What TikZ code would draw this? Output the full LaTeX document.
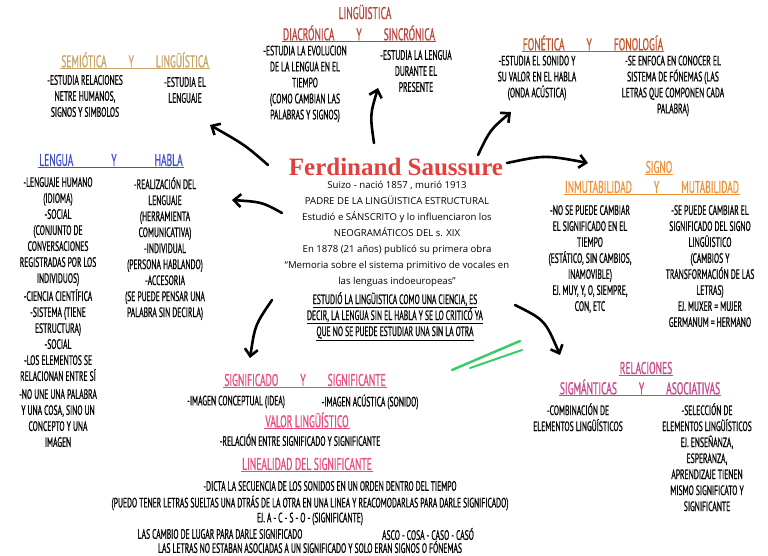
\documentclass[tikz,border=0pt]{standalone}
\usepackage{fontspec}
\usetikzlibrary{arrows.meta}
\newfontfamily\capsf[FakeStretch=0.56,FakeBold=0.6]{PT Sans}
\newfontfamily\bodyf{Open Sans}
\newfontfamily\titlef{Liberation Serif}
\definecolor{cLing}{HTML}{B8453C}
\definecolor{cSemi}{HTML}{C9A466}
\definecolor{cFon}{HTML}{C0532A}
\definecolor{cLen}{HTML}{4150D0}
\definecolor{cTit}{HTML}{E0403F}
\definecolor{cSig}{HTML}{F0913A}
\definecolor{cSdo}{HTML}{EA4A7C}
\definecolor{cRel}{HTML}{C8468A}
\definecolor{cGreen}{HTML}{3CCB6A}
\tikzset{
  txt/.style={align=center,inner sep=0pt,font=\capsf\fontsize{13.6}{16}\selectfont},
  hdr/.style={align=center,inner sep=1pt,font=\capsf\fontsize{17}{18}\selectfont},
  body/.style={align=center,inner sep=0pt,font=\bodyf\fontsize{9.6}{16}\selectfont},
  arr/.style={line width=2.6pt,line cap=round,-{Straight Barb[length=7pt,width=13pt,line width=2.6pt]}},
  ul/.style={line width=0.7pt}
}
\newcommand{\hd}[5]{\node[hdr,text=#4] (#1) at (#2,#3) {#5};
  \draw[ul,#4] (#1.south west) -- (#1.south east);}
\begin{document}
\begin{tikzpicture}[x=1pt,y=-1pt]
\useasboundingbox[fill=white] (0,0) rectangle (768,556);
% Lingüistica
\node[hdr,text=cLing] (ling) at (365,12) {LINGÜISTICA};
\hd{dia}{359}{33}{cLing}{DIACRÓNICA\hspace{22pt}Y\hspace{22pt}SINCRÓNICA}
\node[txt] (dia1) at (305,84) {-ESTUDIA LA EVOLUCION\\DE LA LENGUA EN EL\\TIEMPO\\(COMO CAMBIAN LAS\\PALABRAS Y SIGNOS)};
\node[txt] (dia2) at (416,71) {-ESTUDIA LA LENGUA\\DURANTE EL\\PRESENTE};
% Semiotica
\hd{sem}{135}{60}{cSemi}{SEMIÓTICA\hspace{22pt}Y\hspace{22pt}LINGÜÍSTICA}
\node[txt] (sem1) at (85,96) {-ESTUDIA RELACIONES\\NETRE HUMANOS,\\SIGNOS Y SIMBOLOS};
\node[txt] (sem2) at (185,90) {-ESTUDIA EL\\LENGUAJE};
% Fonetica
\hd{fon}{593}{43}{cFon}{FONÉTICA\hspace{22pt}Y\hspace{22pt}FONOLOGÍA}
\node[txt] (fon1) at (537,78) {-ESTUDIA EL SONIDO Y\\SU VALOR EN EL HABLA\\(ONDA ACÚSTICA)};
\node[txt] (fon2) at (673,86) {-SE ENFOCA EN CONOCER EL\\SISTEMA DE FÓNEMAS (LAS\\LETRAS QUE COMPONEN CADA\\PALABRA)};
% Lengua y habla
\hd{len}{111}{160}{cLen}{LENGUA\hspace{38pt}Y\hspace{38pt}HABLA}
\node[txt,anchor=north] (len1) at (58,177) {-LENGUAJE HUMANO\\(IDIOMA)\\-SOCIAL\\(CONJUNTO DE\\CONVERSACIONES\\REGISTRADAS POR LOS\\INDIVIDUOS)\\[2pt]-CIENCIA CIENTÍFICA\\-SISTEMA (TIENE\\ESTRUCTURA)\\-SOCIAL\\-LOS ELEMENTOS SE\\RELACIONAN ENTRE SÍ\\[2pt]-NO UNE UNA PALABRA\\Y UNA COSA, SINO UN\\CONCEPTO Y UNA\\IMAGEN};
\node[txt,anchor=north] (len2) at (165,177) {-REALIZACIÓN DEL\\LENGUAJE\\(HERRAMIENTA\\COMUNICATIVA)\\-INDIVIDUAL\\(PERSONA HABLANDO)\\-ACCESORIA\\(SE PUEDE PENSAR UNA\\PALABRA SIN DECIRLA)};
% Center
\node[inner sep=0pt,text=cTit,font=\titlef\bfseries\fontsize{25}{28}\selectfont] (tit) at (396,167) {Ferdinand Saussure};
\node[body,anchor=north] (bio) at (397,181) {Suizo - nació 1857 , murió 1913\\PADRE DE LA LINGÜISTICA ESTRUCTURAL\\Estudió e SÁNSCRITO y lo influenciaron los\\NEOGRAMÁTICOS DEL s. XIX\\En 1878 (21 años) publicó su primera obra\\“Memoria sobre el sistema primitivo de vocales en\\las lenguas indoeuropeas”};
\node[txt,anchor=north] (est) at (395,292) {\underline{ESTUDIÓ LA LINGÜISTICA COMO UNA CIENCIA, ES}\\\underline{DECIR, LA LENGUA SIN EL HABLA Y SE LO CRITICÓ YA}\\\underline{QUE NO SE PUEDE ESTUDIAR UNA SIN LA OTRA}};
% Signo
\hd{sig}{659}{167}{cSig}{SIGNO}
\hd{inm}{652}{187}{cSig}{INMUTABILIDAD\hspace{22pt}Y\hspace{22pt}MUTABILIDAD}
\node[txt,anchor=north] (sig1) at (590,205) {-NO SE PUEDE CAMBIAR\\EL SIGNIFICADO EN EL\\TIEMPO\\(ESTÁTICO, SIN CAMBIOS,\\INAMOVIBLE)\\EJ. MUY, Y, O, SIEMPRE,\\CON, ETC};
\node[txt,anchor=north] (sig2) at (710,205) {-SE PUEDE CAMBIAR EL\\SIGNIFICADO DEL SIGNO\\LINGÜISTICO\\(CAMBIOS Y\\TRANSFORMACIÓN DE LAS\\LETRAS)\\EJ. MUXER = MUJER\\GERMANUM = HERMANO};
% Significado
\hd{sdo}{305}{380}{cSdo}{SIGNIFICADO\hspace{22pt}Y\hspace{22pt}SIGNIFICANTE}
\node[txt] (sdo1) at (236,402) {-IMAGEN CONCEPTUAL (IDEA)};
\node[txt] (sdo2) at (370,402) {-IMAGEN ACÚSTICA (SONIDO)};
\hd{val}{307}{420}{cSdo}{VALOR LINGÜÍSTICO}
\node[txt] (val1) at (300,440) {-RELACIÓN ENTRE SIGNIFICADO Y SIGNIFICANTE};
\hd{lin}{307}{464}{cSdo}{LINEALIDAD DEL SIGNIFICANTE}
\node[txt] (lin1) at (330,486) {-DICTA LA SECUENCIA DE LOS SONIDOS EN UN ORDEN DENTRO DEL TIEMPO};
\node[txt] (lin2) at (310,503) {(PUEDO TENER LETRAS SUELTAS UNA DTRÁS DE LA OTRA EN UNA LINEA Y REACOMODARLAS PARA DARLE SIGNIFICADO)};
\node[txt] (lin3) at (310,519) {EJ. A - C - S - O - (SIGNIFICANTE)};
\node[txt] (lin4) at (220,534) {LAS CAMBIO DE LUGAR PARA DARLE SIGNIFICADO};
\node[txt] (lin5) at (428,534) {ASCO - COSA - CASO - CASÓ};
\node[txt] (lin6) at (310,547) {LAS LETRAS NO ESTABAN ASOCIADAS A UN SIGNIFICADO Y SOLO ERAN SIGNOS O FÓNEMAS};
% Relaciones
\hd{rel}{646}{368}{cRel}{RELACIONES}
\hd{sgm}{640}{387}{cRel}{SIGMÁNTICAS\hspace{22pt}Y\hspace{22pt}ASOCIATIVAS}
\node[txt,anchor=north] (rel1) at (578,403) {-COMBINACIÓN DE\\ELEMENTOS LINGÜÍSTICOS};
\node[txt,anchor=north] (rel2) at (707,403) {-SELECCIÓN DE\\ELEMENTOS LINGÜÍSTICOS\\EJ. ENSEÑANZA,\\ESPERANZA,\\APRENDIZAJE TIENEN\\MISMO SIGNIFICATO Y\\SIGNIFICANTE};
% arrows
\coordinate (a1s) at (268,165); \coordinate (a1e) at (210,125);
\coordinate (a2s) at (282,213); \coordinate (a2e) at (232,200);
\coordinate (a3s) at (374,143); \coordinate (a3e) at (378,88);
\coordinate (a4s) at (478,155); \coordinate (a4e) at (511,112);
\coordinate (a5s) at (507,163); \coordinate (a5e) at (588,163);
\coordinate (a6s) at (272,300); \coordinate (a6e) at (250,358);
\coordinate (a7s) at (515,305); \coordinate (a7e) at (560,355);
\draw[arr] (a1s) .. controls (245,145) .. (a1e);
\draw[arr] (a2s) .. controls (262,202) .. (a2e);
\draw[arr] (a3s) .. controls (370,115) .. (a3e);
\draw[arr] (a4s) .. controls (490,130) .. (a4e);
\draw[arr] (a5s) .. controls (545,155) .. (a5e);
\draw[arr] (a6s) .. controls (255,325) .. (a6e);
\draw[arr] (a7s) .. controls (545,320) .. (a7e);
% green strokes
\coordinate (g1) at (452,370); \coordinate (g2) at (520,341);
\coordinate (g3) at (470,368); \coordinate (g4) at (522,350);
\draw[cGreen,line width=2.5pt,line cap=round] (g1) -- (g2);
\draw[cGreen,line width=2pt,line cap=round] (g3) -- (g4);
\end{tikzpicture}
\end{document}
